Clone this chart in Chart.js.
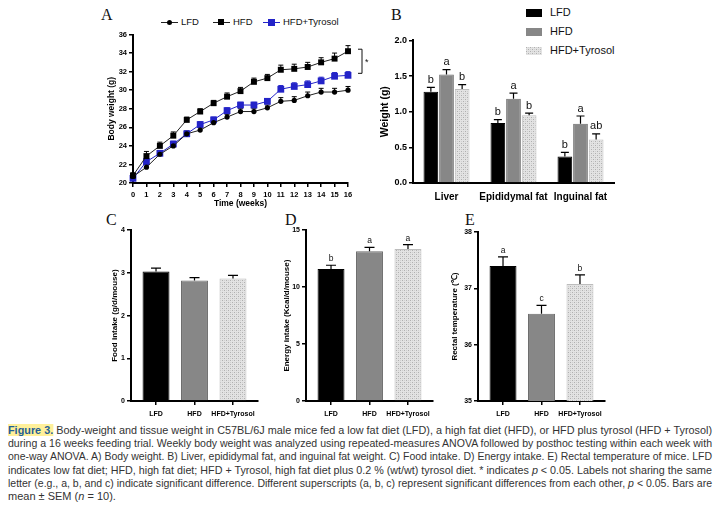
<!DOCTYPE html>
<html><head><meta charset="utf-8">
<script src="https://cdn.jsdelivr.net/npm/chart.js@4.4.0/dist/chart.umd.min.js"></script>
<style>
html,body{margin:0;padding:0;background:#fff;}
body{width:720px;height:509px;position:relative;overflow:hidden;font-family:"Liberation Sans",Arial,sans-serif;color:#111;}
canvas{position:absolute;}
.pl{position:absolute;font-family:"Liberation Serif","Times New Roman",serif;font-size:16px;line-height:16px;color:#111;}
.lg{position:absolute;font-size:9.5px;line-height:12px;white-space:nowrap;color:#111;}
.lgb{position:absolute;font-size:11px;line-height:13px;white-space:nowrap;color:#111;}
.ln{position:absolute;height:1px;}
.mk{position:absolute;}
.sw{position:absolute;width:16px;height:8px;}
.capline{position:absolute;left:8px;width:704px;height:13px;font-family:"Liberation Sans Narrow","Liberation Sans",Arial,sans-serif;font-size:11px;line-height:13px;color:#333;white-space:nowrap;}
.capline span.t{display:inline-block;white-space:nowrap;transform-origin:0 0;}
.fig{color:#1f5e96;font-weight:bold;background:#fff09a;}
</style>
</head><body>

<div class="pl" style="left:101px;top:7px">A</div>
<div class="pl" style="left:391px;top:7px">B</div>
<div class="pl" style="left:106px;top:212px">C</div>
<div class="pl" style="left:285px;top:212px">D</div>
<div class="pl" style="left:465px;top:212px">E</div>

<!-- legend A -->
<div class="ln" style="left:161px;top:22px;width:17px;background:#222"></div>
<div class="mk" style="left:167px;top:20px;width:5px;height:5px;border-radius:50%;background:#000"></div>
<div class="lg" style="left:181px;top:16px">LFD</div>
<div class="ln" style="left:213px;top:22px;width:17px;background:#222"></div>
<div class="mk" style="left:218px;top:19px;width:6px;height:6px;background:#000"></div>
<div class="lg" style="left:233px;top:16px">HFD</div>
<div class="ln" style="left:263px;top:22px;width:17px;background:#2323c8"></div>
<div class="mk" style="left:268px;top:19px;width:7px;height:7px;background:#2323c8"></div>
<div class="lg" style="left:283px;top:16px">HFD+Tyrosol</div>

<!-- legend B -->
<div class="sw" style="left:526px;top:9px;background:#000"></div>
<div class="lgb" style="left:550px;top:6px">LFD</div>
<div class="sw" style="left:526px;top:28px;background:#878787"></div>
<div class="lgb" style="left:550px;top:25px">HFD</div>
<div class="sw" id="swT" style="left:526px;top:47px;background:#d6d6d6"></div>
<div class="lgb" style="left:550px;top:44px">HFD+Tyrosol</div>

<canvas id="cA" width="271" height="181" style="left:107px;top:28px"></canvas>
<canvas id="cB" width="246" height="172" style="left:379px;top:33px"></canvas>
<canvas id="cC" width="158" height="200" style="left:110px;top:224px"></canvas>
<canvas id="cD" width="161" height="200" style="left:282px;top:224px"></canvas>
<canvas id="cE" width="165" height="198" style="left:450px;top:226px"></canvas>

<div class="capline j" style="top:424px"><span class="t"><span class="fig">Figure 3.</span> Body-weight and tissue weight in C57BL/6J male mice fed a low fat diet (LFD), a high fat diet (HFD), or HFD plus tyrosol (HFD + Tyrosol)</span></div>
<div class="capline j" style="top:437.2px"><span class="t">during a 16 weeks feeding trial. Weekly body weight was analyzed using repeated-measures ANOVA followed by posthoc testing within each week with</span></div>
<div class="capline j" style="top:450.4px"><span class="t">one-way ANOVA. A) Body weight. B) Liver, epididymal fat, and inguinal fat weight. C) Food intake. D) Energy intake. E) Rectal temperature of mice. LFD</span></div>
<div class="capline j" style="top:463.6px"><span class="t">indicates low fat diet; HFD, high fat diet; HFD + Tyrosol, high fat diet plus 0.2 % (wt/wt) tyrosol diet. * indicates <i>p</i> &lt; 0.05. Labels not sharing the same</span></div>
<div class="capline j" style="top:476.8px"><span class="t">letter (e.g., a, b, and c) indicate significant difference. Different superscripts (a, b, c) represent significant differences from each other, <i>p</i> &lt; 0.05. Bars are</span></div>
<div class="capline" style="top:490px"><span class="t">mean ± SEM (<i>n</i> = 10).</span></div>

<script>
// ---------------- data ----------------
const weeks = [0,1,2,3,4,5,6,7,8,9,10,11,12,13,14,15,16];
const lfdWeight    = [20.7,21.7,23.1,24.0,25.3,25.7,26.5,27.1,27.7,27.7,28.1,28.8,28.9,29.4,29.8,29.8,30.0];
const lfdWeightErr = [0.3,0.3,0.3,0.3,0.3,0.3,0.3,0.3,0.3,0.3,0.3,0.4,0.4,0.4,0.4,0.4,0.4];
const hfdWeight    = [20.8,22.9,24.0,25.1,26.8,27.7,28.6,29.3,29.9,30.9,31.3,32.2,32.3,32.5,33.0,33.4,34.2];
const hfdWeightErr = [0.3,0.5,0.4,0.4,0.3,0.3,0.3,0.4,0.4,0.4,0.4,0.5,0.5,0.5,0.5,0.6,0.6];
const tyrWeight    = [20.5,22.3,23.2,24.2,25.3,26.3,26.8,27.8,28.4,28.4,28.8,30.1,30.4,30.6,31.0,31.5,31.6];
const tyrWeightErr = [0.3,0.4,0.3,0.3,0.3,0.3,0.3,0.3,0.3,0.3,0.3,0.4,0.4,0.4,0.4,0.4,0.4];
const weightTicks  = {min:20, max:36, step:2};

const tissues      = ['Liver','Epididymal fat','Inguinal fat'];
const lfdTissue    = [1.28,0.84,0.37];
const lfdTissueErr = [0.06,0.05,0.06];
const hfdTissue    = [1.52,1.18,0.83];
const hfdTissueErr = [0.07,0.08,0.11];
const tyrTissue    = [1.32,0.95,0.61];
const tyrTissueErr = [0.06,0.03,0.08];
const lfdTissueLetters = ['b','b','b'];
const hfdTissueLetters = ['a','a','a'];
const tyrTissueLetters = ['b','b','ab'];

const groups        = ['LFD','HFD','HFD+Tyrosol'];
const foodIntake    = [3.03,2.82,2.87];
const foodIntakeErr = [0.08,0.07,0.07];
const energyIntake    = [11.6,13.15,13.35];
const energyIntakeErr = [0.32,0.35,0.38];
const energyLetters   = ['b','a','a'];
const rectalTemp    = [37.40,36.55,37.08];
const rectalTempErr = [0.16,0.15,0.16];
const rectalLetters = ['a','c','b'];
const bracketLabel  = '*';

// ---------------- styles ----------------
const F = "'Liberation Sans', Arial, sans-serif";
const BLUE = '#2323c8';
Chart.defaults.font.family = F;
Chart.defaults.color = '#000';
Chart.defaults.animation = false;

function makePattern(){
  const c = document.createElement('canvas'); c.width = 4; c.height = 4;
  const x = c.getContext('2d');
  x.fillStyle = '#e3e3e3'; x.fillRect(0,0,4,4);
  x.fillStyle = '#b0b0b0'; x.fillRect(0,0,1,1); x.fillRect(2,2,1,1);
  x.fillStyle = '#cfcfcf'; x.fillRect(2,0,1,1); x.fillRect(0,2,1,1);
  return c;
}
const patCanvas = makePattern();
const PAT = patCanvas.getContext('2d').createPattern(patCanvas,'repeat');
document.getElementById('swT').style.background = 'url(' + patCanvas.toDataURL() + ')';

const errPlugin = {
  id: 'errbars',
  beforeDatasetsDraw(chart, args, opts){ if (opts.phase === 'before') drawErr(chart, opts); },
  afterDatasetsDraw(chart, args, opts){ if (opts.phase !== 'before') drawErr(chart, opts); }
};
function drawErr(chart, opts){
  const ctx = chart.ctx, ys = chart.scales.y;
  ctx.save();
  chart.data.datasets.forEach((ds, i) => {
    if (!ds.errors) return;
    const meta = chart.getDatasetMeta(i);
    meta.data.forEach((el, j) => {
      const raw = ds.data[j];
      const v = (typeof raw === 'object') ? raw.y : raw;
      const yTop = ys.getPixelForValue(v + ds.errors[j]);
      ctx.strokeStyle = ds.errColor || '#000';
      ctx.lineWidth = opts.lw || 1;
      ctx.beginPath();
      ctx.moveTo(el.x, el.y); ctx.lineTo(el.x, yTop);
      ctx.moveTo(el.x - opts.cap/2, yTop); ctx.lineTo(el.x + opts.cap/2, yTop);
      ctx.stroke();
      if (ds.letters) {
        ctx.fillStyle = '#111';
        ctx.font = opts.letterFont;
        ctx.textAlign = 'center'; ctx.textBaseline = 'bottom';
        ctx.fillText(ds.letters[j], el.x, yTop - opts.letterGap);
      }
    });
  });
  ctx.restore();
}

const bracketPlugin = {
  id: 'bracket',
  afterDraw(chart){
    const xs = chart.scales.x, ys = chart.scales.y, ctx = chart.ctx;
    const last = weeks.length - 1;
    const x = xs.getPixelForValue(weeks[last]) + 14;
    const y1 = ys.getPixelForValue(hfdWeight[last]) - 2;
    const y2 = ys.getPixelForValue(tyrWeight[last]) - 2;
    ctx.save();
    ctx.strokeStyle = '#111'; ctx.lineWidth = 1;
    ctx.beginPath();
    ctx.moveTo(x - 4, y1); ctx.lineTo(x, y1); ctx.lineTo(x, y2); ctx.lineTo(x - 4, y2);
    ctx.stroke();
    ctx.fillStyle = '#111'; ctx.font = '9px ' + F;
    ctx.textAlign = 'left'; ctx.textBaseline = 'middle';
    ctx.fillText(bracketLabel, x + 3, (y1 + y2) / 2 + 1);
    ctx.restore();
  }
};

function axisY(width, size, title, tsize, extra){
  return Object.assign({
    border: {display:true, color:'#000', width:2},
    grid: {display:true, drawOnChartArea:false, drawTicks:true, tickLength:4, color:'#000', lineWidth:1.5},
    ticks: {color:'#000', font:{family:F, weight:'bold', size:size}, padding:2},
    title: {display:true, text:title, color:'#000', font:{family:F, weight:'bold', size:tsize}, padding:{top:0,bottom:0}},
    afterFit: s => { s.width = width; }
  }, extra);
}
function axisX(height, size, title, tsize, extra, ticksExtra){
  return Object.assign({
    offset: false,
    border: {display:true, color:'#000', width:2},
    grid: {display:true, offset:false, drawOnChartArea:false, drawTicks:true, tickLength:4, color:'#000', lineWidth:1.5},
    ticks: Object.assign({color:'#000', font:{family:F, weight:'bold', size:size}, padding:3, maxRotation:0, autoSkip:false}, ticksExtra||{}),
    title: {display:!!title, text:title||'', color:'#000', font:{family:F, weight:'bold', size:tsize}, padding:{top:0,bottom:0}},
    afterFit: s => { s.height = height; }
  }, extra);
}

// ---------------- A: body weight ----------------
const pts = arr => weeks.map((w, i) => ({x:w, y:arr[i]}));
new Chart(document.getElementById('cA'), {
  type: 'line',
  data: { datasets: [
    {label:'LFD', data:pts(lfdWeight), errors:lfdWeightErr, errColor:'#000', borderColor:'#222', borderWidth:1,
     pointStyle:'circle', pointRadius:2.6, pointBackgroundColor:'#000', pointBorderColor:'#000', pointBorderWidth:0, clip:false},
    {label:'HFD', data:pts(hfdWeight), errors:hfdWeightErr, errColor:'#000', borderColor:'#222', borderWidth:1,
     pointStyle:'rect', pointRadius:4.2, pointBackgroundColor:'#000', pointBorderColor:'#000', pointBorderWidth:0, clip:false},
    {label:'HFD+Tyrosol', data:pts(tyrWeight), errors:tyrWeightErr, errColor:BLUE, borderColor:BLUE, borderWidth:1,
     pointStyle:'rect', pointRadius:4.8, pointBackgroundColor:BLUE, pointBorderColor:BLUE, pointBorderWidth:0, clip:false}
  ]},
  options: {
    responsive:false, animation:false, devicePixelRatio:1,
    layout:{padding:{left:0, top:6, right:30, bottom:0}},
    plugins:{legend:{display:false}, tooltip:{enabled:false}, errbars:{phase:'before', cap:5, lw:1}},
    scales:{
      x: axisX(26, 7.5, 'Time (weeks)', 8.5, {type:'linear', min:weeks[0], max:weeks[weeks.length-1]}, {stepSize:1}),
      y: axisY(26, 7.5, 'Body weight (g)', 8.5, {type:'linear', min:weightTicks.min, max:weightTicks.max, ticks:{stepSize:weightTicks.step, color:'#000', font:{family:F, weight:'bold', size:7.5}, padding:2}})
    }
  },
  plugins:[errPlugin, bracketPlugin]
});

// ---------------- B: tissue weight ----------------
const bX = axisX(22, 10, '', 10, {}, {padding:8});
bX.offset = true;
bX.grid = {display:true, offset:true, drawOnChartArea:false, drawTicks:false, color:'#000'};
new Chart(document.getElementById('cB'), {
  type: 'bar',
  data: { labels: tissues, datasets: [
    {label:'LFD', data:lfdTissue, errors:lfdTissueErr, letters:lfdTissueLetters, backgroundColor:'#000', borderColor:'#000', borderWidth:1},
    {label:'HFD', data:hfdTissue, errors:hfdTissueErr, letters:hfdTissueLetters, backgroundColor:'#878787', borderColor:'#6a6a6a', borderWidth:1},
    {label:'HFD+Tyrosol', data:tyrTissue, errors:tyrTissueErr, letters:tyrTissueLetters, backgroundColor:PAT, borderColor:'#bdbdbd', borderWidth:1}
  ]},
  options: {
    responsive:false, animation:false, devicePixelRatio:1,
    layout:{padding:{left:0, top:7, right:11, bottom:0}},
    datasets:{bar:{categoryPercentage:0.7, barPercentage:0.94}},
    plugins:{legend:{display:false}, tooltip:{enabled:false}, errbars:{phase:'after', cap:8, lw:1.2, letterFont:'11px '+F, letterGap:2}},
    scales:{
      x: bX,
      y: axisY(34, 9, 'Weight (g)', 10.5, {min:0, max:2, ticks:{stepSize:0.5, color:'#000', font:{family:F, weight:'bold', size:9}, padding:2, callback:v => v.toFixed(1)}})
    }
  },
  plugins:[errPlugin]
});

// ---------------- C, D, E: single bar panels ----------------
const barColors = ['#000', '#878787', PAT];
const barBorders = ['#000', '#6a6a6a', '#bdbdbd'];
function singleBar(id, values, errs, letters, yTitle, yMin, yMax, yStep, yWidth, padTop, padRight){
  const data = values.map((v, i) => ({x:i+1, y:v}));
  new Chart(document.getElementById(id), {
    type:'bar',
    data:{ datasets:[{label:yTitle, data:data, errors:errs, letters:letters,
      backgroundColor:barColors, borderColor:barBorders, borderWidth:1,
      categoryPercentage:1, barPercentage:0.7}]},
    options:{
      responsive:false, animation:false, devicePixelRatio:1,
      layout:{padding:{left:0, top:padTop, right:padRight, bottom:0}},
      plugins:{legend:{display:false}, tooltip:{enabled:false}, errbars:{phase:'after', cap:10, lw:1.2, letterFont:'8.5px '+F, letterGap:2}},
      scales:{
        x: axisX(23, 7, '', 8, {type:'linear', bounds:'data', grace:0, min:0.35, max:groups.length+0.65,
              afterBuildTicks: ax => { ax.ticks = groups.map((g, i) => ({value:i+1})); }},
              {callback: v => groups[v-1] || '', padding:5}),
        y: axisY(yWidth, 7, yTitle, 8, {min:yMin, max:yMax, ticks:{stepSize:yStep, color:'#000', font:{family:F, weight:'bold', size:7}, padding:2}})
      }
    },
    plugins:[errPlugin]
  });
}
singleBar('cC', foodIntake, foodIntakeErr, null, 'Food intake (g/d/mouse)', 0, 4, 1, 21, 6, 10);
singleBar('cD', energyIntake, energyIntakeErr, energyLetters, 'Energy intake (Kcal/d/mouse)', 0, 15, 5, 24, 6, 10);
singleBar('cE', rectalTemp, rectalTempErr, rectalLetters, 'Rectal temperature (\u2103)', 35, 38, 1, 28, 6, 10);

// ---------------- caption justification ----------------
function justify(){
  document.querySelectorAll('.capline.j').forEach(d => {
    const s = d.querySelector('span.t');
    s.style.wordSpacing = ''; s.style.transform = '';
    const w = s.getBoundingClientRect().width, target = 704;
    if (w < target) {
      const n = (s.textContent.match(/ /g) || []).length;
      s.style.wordSpacing = ((target - w) / n) + 'px';
    } else {
      s.style.transform = 'scaleX(' + (target / w) + ')';
    }
  });
}
justify();
if (document.fonts && document.fonts.ready) document.fonts.ready.then(justify);
</script>
</body></html>
